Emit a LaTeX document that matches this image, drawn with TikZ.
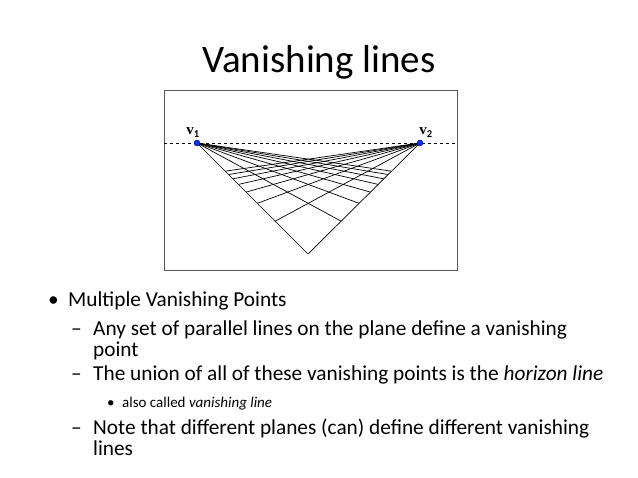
\documentclass[tikz,border=0pt]{standalone}
\usepackage{fontspec}
\usetikzlibrary{calc}
\setmainfont{Carlito}
\newfontfamily\serifv{Liberation Serif}
\begin{document}
\begin{tikzpicture}[x=1pt,y=-1pt,
  txt/.style={anchor=base west,inner sep=0,font=\fontsize{21.3}{24}\selectfont},
  small/.style={anchor=base west,inner sep=0,font=\fontsize{15}{18}\selectfont},
  grid/.style={line width=0.7pt},
  vp/.style={circle,fill=blue!80!cyan,draw=blue!40!black,inner sep=0,minimum size=6pt}]
\useasboundingbox (0,0) rectangle (638,478);
\node[font=\fontsize{39}{44}\selectfont,anchor=base,inner sep=0] (title) at (319,73) {Vanishing lines};
\draw[gray!70!black,line width=0.8pt] (164,90) rectangle (457,270);
\coordinate (L) at (164,143); \coordinate (R) at (457,143);
\draw[dashed,line width=0.6pt] (L) -- (R);
\coordinate (A) at (308,254);
\coordinate (V1) at (197,143); \coordinate (V2) at (420,143);
\draw[grid] (V1) -- (A) -- (V2);
\foreach \u in {1,...,7}{
  \pgfmathsetmacro{\ff}{0.42*\u/(1+0.42*\u)}
  \draw[grid] ($(A)!\ff!(V2)$) -- (V1);
  \draw[grid] ($(A)!\ff!(V1)$) -- (V2);
}
\node[vp] (v1) at (V1) {};
\node[vp] (v2) at (V2) {};
\node[font=\serifv\bfseries\fontsize{15}{17}\selectfont,anchor=base] (l1) at (193,135) {v$_\mathbf{1}$};
\node[font=\serifv\bfseries\fontsize{15}{17}\selectfont,anchor=base] (l2) at (426,135) {v$_\mathbf{2}$};
\node[txt] (b0) at (48,307) {•};
\node[txt] (t0) at (68,307) {Multiple Vanishing Points};
\node[txt] (d1) at (71,336) {–};
\node[txt] (t1) at (93,336) {Any set of parallel lines on the plane define a vanishing};
\node[txt] (t1b) at (93,357) {point};
\node[txt] (d2) at (71,381) {–};
\node[txt] (t2) at (93,381) {The union of all of these vanishing points is the \textit{horizon line}};
\node[small] (b3) at (107,408) {•};
\node[small] (t3) at (122,408) {also called \textit{vanishing line}};
\node[txt] (d4) at (71,435) {–};
\node[txt] (t4) at (93,435) {Note that different planes (can) define different vanishing};
\node[txt] (t4b) at (93,456) {lines};
\end{tikzpicture}
\end{document}
